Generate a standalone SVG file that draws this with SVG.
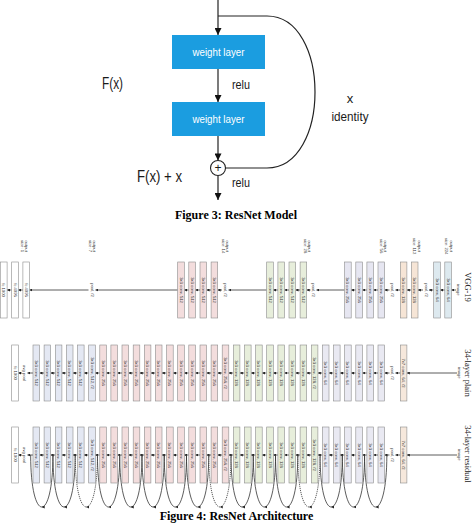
<svg xmlns="http://www.w3.org/2000/svg" xmlns:xlink="http://www.w3.org/1999/xlink" width="474" height="524" viewBox="0 0 474 524">
<style>
.wl{fill:#1b9de0}
.wt{fill:#fff;font-family:"Liberation Sans",sans-serif;font-size:11px;text-anchor:middle}
.lb{fill:#1a1a1a;font-family:"Liberation Sans",sans-serif}
.cap{fill:#000;font-family:"Liberation Serif",serif;font-weight:bold;font-size:12px;text-anchor:middle}
.b{stroke:#8c8c8c;stroke-width:0.6}
.v64{fill:#dde9ef}.v128{fill:#f6e5d6}.v256{fill:#e6e6f1}.v512g{fill:#e7eedb}.v512p{fill:#f3dddd}.fc{fill:#fff}
.p7{fill:#f6e8dc}.p64{fill:#e9e9f2}.p128{fill:#e7eedb}.p256{fill:#f3dddd}.p512{fill:#e4e8f3}
.bt{fill:#333;font-family:"Liberation Sans",sans-serif;font-size:4.2px;text-anchor:middle;dominant-baseline:central}
.rl{fill:#222;font-family:"Liberation Serif",serif;font-size:8.5px;text-anchor:middle;dominant-baseline:central}
.ar{stroke:#333;stroke-width:0.8;marker-end:url(#ah)}
.sc{stroke:#333;stroke-width:0.8;fill:none}
.dt{stroke-dasharray:1.2 0.9}
.tc{stroke:#222;stroke-width:1.2;fill:none}
</style>
<defs>
<marker id="ah" viewBox="0 0 6 6" refX="5.8" refY="3" markerWidth="3" markerHeight="3" markerUnits="userSpaceOnUse" orient="auto"><path d="M0,0 L6,3 L0,6 z" fill="#222"/></marker>
<marker id="big" viewBox="0 0 10 10" refX="10" refY="5" markerWidth="8" markerHeight="7" markerUnits="userSpaceOnUse" orient="auto"><path d="M0,0 L10,5 L0,10 z" fill="#111"/></marker>
<g id="chain" class="ar">
<line x1="457" y1="0" x2="406.9" y2="0"/><line x1="400.3" y1="0" x2="395.5" y2="0"/><line x1="389.5" y1="0" x2="384.6" y2="0"/>
<line x1="378" y1="0" x2="373.5" y2="0"/><line x1="366.9" y1="0" x2="362.4" y2="0"/><line x1="355.8" y1="0" x2="351.2" y2="0"/><line x1="344.6" y1="0" x2="340.1" y2="0"/>
<line x1="333.5" y1="0" x2="329" y2="0"/><line x1="322.4" y1="0" x2="317.9" y2="0"/><line x1="311.3" y1="0" x2="306.7" y2="0"/><line x1="300.1" y1="0" x2="295.6" y2="0"/>
<line x1="289" y1="0" x2="284.5" y2="0"/><line x1="277.9" y1="0" x2="273.3" y2="0"/><line x1="266.7" y1="0" x2="262.2" y2="0"/><line x1="255.6" y1="0" x2="251.1" y2="0"/>
<line x1="244.5" y1="0" x2="239.9" y2="0"/><line x1="233.3" y1="0" x2="228.8" y2="0"/><line x1="222.2" y1="0" x2="217.7" y2="0"/><line x1="211.1" y1="0" x2="206.6" y2="0"/>
<line x1="200" y1="0" x2="195.4" y2="0"/><line x1="188.8" y1="0" x2="184.3" y2="0"/><line x1="177.7" y1="0" x2="173.2" y2="0"/><line x1="166.6" y1="0" x2="162" y2="0"/>
<line x1="155.4" y1="0" x2="150.9" y2="0"/><line x1="144.3" y1="0" x2="139.8" y2="0"/><line x1="133.2" y1="0" x2="128.6" y2="0"/><line x1="122" y1="0" x2="117.5" y2="0"/>
<line x1="110.9" y1="0" x2="106.4" y2="0"/><line x1="99.8" y1="0" x2="95.3" y2="0"/><line x1="88.7" y1="0" x2="84.1" y2="0"/><line x1="77.5" y1="0" x2="73" y2="0"/>
<line x1="66.4" y1="0" x2="61.9" y2="0"/><line x1="55.3" y1="0" x2="50.7" y2="0"/><line x1="44.1" y1="0" x2="39.6" y2="0"/>
<line x1="33" y1="0" x2="27.5" y2="0"/><line x1="22" y1="0" x2="18.3" y2="0"/>
</g>
<g id="skip"><path class="sc" d="M11.13,455 C11.13,489.7 5.56,507 0,507" marker-end="url(#ah)"/><path class="sc" d="M0,507 C-5.56,507 -11.13,489.7 -11.13,455"/></g>
<g id="skipd"><path class="sc dt" d="M11.13,455 C11.13,489.7 5.56,507 0,507" marker-end="url(#ah)"/><path class="sc dt" d="M0,507 C-5.56,507 -11.13,489.7 -11.13,455"/></g>
</defs>
<rect width="474" height="524" fill="#fff"/>

<!-- Figure 3 connectors -->
<g id="connectors-fig3">
<line class="tc" x1="218" y1="0" x2="218" y2="35" marker-end="url(#big)"/>
<line class="tc" x1="218" y1="69" x2="218" y2="102" marker-end="url(#big)"/>
<line class="tc" x1="218" y1="136" x2="218" y2="160.5" marker-end="url(#big)"/>
<line class="tc" x1="218" y1="175.5" x2="218" y2="200" marker-end="url(#big)"/>
<path class="tc" d="M218,16 L267,16 C331,16 331,168 267,168 L225.5,168"/>
</g>
<g id="wl1"><rect class="wl" x="172" y="35" width="93" height="34"/><text class="wt" x="218.5" y="56" textLength="52" lengthAdjust="spacingAndGlyphs">weight layer</text></g>
<g id="wl2"><rect class="wl" x="172" y="102" width="93" height="34"/><text class="wt" x="218.5" y="123" textLength="52" lengthAdjust="spacingAndGlyphs">weight layer</text></g>
<g id="add"><circle cx="218" cy="168" r="7.5" fill="#fff" stroke="#222" stroke-width="1.1"/><text class="lb" x="218" y="172" font-size="12" text-anchor="middle">+</text></g>
<g id="fig3-labels">
<text class="lb" x="102" y="89" font-size="16" textLength="21" lengthAdjust="spacingAndGlyphs">F(x)</text>
<text class="lb" x="137" y="182" font-size="16" textLength="45" lengthAdjust="spacingAndGlyphs">F(x) + x</text>
<text class="lb" x="232" y="89" font-size="13" textLength="18" lengthAdjust="spacingAndGlyphs">relu</text>
<text class="lb" x="232" y="187" font-size="13" textLength="18" lengthAdjust="spacingAndGlyphs">relu</text>
<text class="lb" x="350" y="103" font-size="13" text-anchor="middle">x</text>
<text class="lb" x="350" y="121" font-size="13" text-anchor="middle" textLength="37" lengthAdjust="spacingAndGlyphs">identity</text>
</g>
<text class="cap" x="236" y="219">Figure 3: ResNet Model</text>

<!-- Figure 4 connectors -->
<g id="connectors-fig4">
<g class="ar">
<line x1="456" y1="290" x2="451.4" y2="290"/><line x1="444.8" y1="290" x2="440.3" y2="290"/><line x1="433.7" y1="290" x2="429" y2="290"/><line x1="423" y1="290" x2="418" y2="290"/>
<line x1="411.4" y1="290" x2="406.9" y2="290"/><line x1="400.3" y1="290" x2="395.5" y2="290"/><line x1="389.5" y1="290" x2="384.6" y2="290"/>
<line x1="378" y1="290" x2="373.5" y2="290"/><line x1="366.9" y1="290" x2="362.4" y2="290"/><line x1="355.8" y1="290" x2="351.2" y2="290"/>
<line x1="344.6" y1="290" x2="316.5" y2="290"/><line x1="310.5" y1="290" x2="306.7" y2="290"/>
<line x1="300.1" y1="290" x2="295.6" y2="290"/><line x1="289" y1="290" x2="284.5" y2="290"/><line x1="277.9" y1="290" x2="273.3" y2="290"/>
<line x1="266.7" y1="290" x2="228.5" y2="290"/><line x1="222" y1="290" x2="217.7" y2="290"/>
<line x1="211.1" y1="290" x2="206.6" y2="290"/><line x1="200" y1="290" x2="195.4" y2="290"/><line x1="188.8" y1="290" x2="184.3" y2="290"/>
<line x1="177.7" y1="290" x2="95.5" y2="290"/><line x1="88.5" y1="290" x2="29.5" y2="290"/>
<line x1="22.9" y1="290" x2="18.3" y2="290"/><line x1="11.7" y1="290" x2="7.1" y2="290"/>
</g>
<use href="#chain" xlink:href="#chain" y="373"/>
<use href="#chain" xlink:href="#chain" y="455"/>
<use href="#skip" xlink:href="#skip" x="41.8"/><use href="#skip" xlink:href="#skip" x="64.06"/><use href="#skipd" xlink:href="#skipd" x="86.32"/><use href="#skip" xlink:href="#skip" x="108.58"/>
<use href="#skip" xlink:href="#skip" x="130.84"/><use href="#skip" xlink:href="#skip" x="153.1"/><use href="#skip" xlink:href="#skip" x="175.36"/><use href="#skip" xlink:href="#skip" x="197.62"/>
<use href="#skipd" xlink:href="#skipd" x="219.88"/><use href="#skip" xlink:href="#skip" x="242.14"/><use href="#skip" xlink:href="#skip" x="264.4"/><use href="#skip" xlink:href="#skip" x="286.66"/>
<use href="#skipd" xlink:href="#skipd" x="308.92"/><use href="#skip" xlink:href="#skip" x="331.18"/><use href="#skip" xlink:href="#skip" x="353.44"/><use href="#skip" xlink:href="#skip" x="375.7"/>
</g>

<!-- VGG-19 row -->
<g id="vgg">
<g id="v_fc1000"><rect class="b fc" x="0.5" y="262" width="6.6" height="56"/><text class="bt" transform="translate(3.8,290) rotate(90)">fc 1000</text></g>
<g id="v_fc4096b"><rect class="b fc" x="11.7" y="262" width="6.6" height="56"/><text class="bt" transform="translate(15,290) rotate(90)">fc 4096</text></g>
<g id="v_fc4096a"><rect class="b fc" x="22.9" y="262" width="6.6" height="56"/><text class="bt" transform="translate(26.2,290) rotate(90)">fc 4096</text></g>
<g id="v_c512_8"><rect class="b v512p" x="177.7" y="262" width="6.6" height="56"/><text class="bt" transform="translate(181,290) rotate(90)">3x3 conv, 512</text></g>
<g id="v_c512_7"><rect class="b v512p" x="188.8" y="262" width="6.6" height="56"/><text class="bt" transform="translate(192.1,290) rotate(90)">3x3 conv, 512</text></g>
<g id="v_c512_6"><rect class="b v512p" x="200" y="262" width="6.6" height="56"/><text class="bt" transform="translate(203.3,290) rotate(90)">3x3 conv, 512</text></g>
<g id="v_c512_5"><rect class="b v512p" x="211.1" y="262" width="6.6" height="56"/><text class="bt" transform="translate(214.4,290) rotate(90)">3x3 conv, 512</text></g>
<g id="v_c512_4"><rect class="b v512g" x="266.7" y="262" width="6.6" height="56"/><text class="bt" transform="translate(270,290) rotate(90)">3x3 conv, 512</text></g>
<g id="v_c512_3"><rect class="b v512g" x="277.9" y="262" width="6.6" height="56"/><text class="bt" transform="translate(281.2,290) rotate(90)">3x3 conv, 512</text></g>
<g id="v_c512_2"><rect class="b v512g" x="289" y="262" width="6.6" height="56"/><text class="bt" transform="translate(292.3,290) rotate(90)">3x3 conv, 512</text></g>
<g id="v_c512_1"><rect class="b v512g" x="300.1" y="262" width="6.6" height="56"/><text class="bt" transform="translate(303.4,290) rotate(90)">3x3 conv, 512</text></g>
<g id="v_c256_4"><rect class="b v256" x="344.6" y="262" width="6.6" height="56"/><text class="bt" transform="translate(347.9,290) rotate(90)">3x3 conv, 256</text></g>
<g id="v_c256_3"><rect class="b v256" x="355.8" y="262" width="6.6" height="56"/><text class="bt" transform="translate(359.1,290) rotate(90)">3x3 conv, 256</text></g>
<g id="v_c256_2"><rect class="b v256" x="366.9" y="262" width="6.6" height="56"/><text class="bt" transform="translate(370.2,290) rotate(90)">3x3 conv, 256</text></g>
<g id="v_c256_1"><rect class="b v256" x="378" y="262" width="6.6" height="56"/><text class="bt" transform="translate(381.3,290) rotate(90)">3x3 conv, 256</text></g>
<g id="v_c128_2"><rect class="b v128" x="400.3" y="262" width="6.6" height="56"/><text class="bt" transform="translate(403.6,290) rotate(90)">3x3 conv, 128</text></g>
<g id="v_c128_1"><rect class="b v128" x="411.4" y="262" width="6.6" height="56"/><text class="bt" transform="translate(414.7,290) rotate(90)">3x3 conv, 128</text></g>
<g id="v_c64_2"><rect class="b v64" x="433.7" y="262" width="6.6" height="56"/><text class="bt" transform="translate(437,290) rotate(90)">3x3 conv, 64</text></g>
<g id="v_c64_1"><rect class="b v64" x="444.8" y="262" width="6.6" height="56"/><text class="bt" transform="translate(448.1,290) rotate(90)">3x3 conv, 64</text></g>
<g id="v_labels">
<text class="bt" transform="translate(458.5,290) rotate(90)">image</text>
<text class="bt" transform="translate(426,290) rotate(90)">pool, /2</text>
<text class="bt" transform="translate(392.5,290) rotate(90)">pool, /2</text>
<text class="bt" transform="translate(313.3,290) rotate(90)">pool, /2</text>
<text class="bt" transform="translate(225.2,290) rotate(90)">pool, /2</text>
<text class="bt" transform="translate(92,290) rotate(90)">pool, /2</text>
<text class="bt" transform="translate(449.5,246) rotate(90)"><tspan x="0" y="-2.3">output</tspan><tspan x="0" y="2.4">size: 224</tspan></text>
<text class="bt" transform="translate(417.5,246) rotate(90)"><tspan x="0" y="-2.3">output</tspan><tspan x="0" y="2.4">size: 112</tspan></text>
<text class="bt" transform="translate(384,246) rotate(90)"><tspan x="0" y="-2.3">output</tspan><tspan x="0" y="2.4">size: 56</tspan></text>
<text class="bt" transform="translate(308,246) rotate(90)"><tspan x="0" y="-2.3">output</tspan><tspan x="0" y="2.4">size: 28</tspan></text>
<text class="bt" transform="translate(226,246) rotate(90)"><tspan x="0" y="-2.3">output</tspan><tspan x="0" y="2.4">size: 14</tspan></text>
<text class="bt" transform="translate(93,246) rotate(90)"><tspan x="0" y="-2.3">output</tspan><tspan x="0" y="2.4">size: 7</tspan></text>
<text class="bt" transform="translate(25,246) rotate(90)"><tspan x="0" y="-2.3">output</tspan><tspan x="0" y="2.4">size: 1</tspan></text>
<text class="rl" transform="translate(468,287) rotate(90)">VGG-19</text>
</g>
</g>

<!-- 34-layer plain row -->
<g id="plain">
<g id="p_fc"><rect class="b fc" x="11.7" y="345" width="6.6" height="56"/><text class="bt" transform="translate(15,373) rotate(90)">fc 1000</text></g>
<g id="p0"><rect class="b p512" x="33" y="345" width="6.6" height="56"/><text class="bt" transform="translate(36.3,373) rotate(90)">3x3 conv, 512</text></g>
<g id="p1"><rect class="b p512" x="44.1" y="345" width="6.6" height="56"/><text class="bt" transform="translate(47.4,373) rotate(90)">3x3 conv, 512</text></g>
<g id="p2"><rect class="b p512" x="55.3" y="345" width="6.6" height="56"/><text class="bt" transform="translate(58.6,373) rotate(90)">3x3 conv, 512</text></g>
<g id="p3"><rect class="b p512" x="66.4" y="345" width="6.6" height="56"/><text class="bt" transform="translate(69.7,373) rotate(90)">3x3 conv, 512</text></g>
<g id="p4"><rect class="b p512" x="77.5" y="345" width="6.6" height="56"/><text class="bt" transform="translate(80.8,373) rotate(90)">3x3 conv, 512</text></g>
<g id="p5"><rect class="b p512" x="88.7" y="345" width="6.6" height="56"/><text class="bt" transform="translate(92,373) rotate(90)">3x3 conv, 512, /2</text></g>
<g id="p6"><rect class="b p256" x="99.8" y="345" width="6.6" height="56"/><text class="bt" transform="translate(103.1,373) rotate(90)">3x3 conv, 256</text></g>
<g id="p7"><rect class="b p256" x="110.9" y="345" width="6.6" height="56"/><text class="bt" transform="translate(114.2,373) rotate(90)">3x3 conv, 256</text></g>
<g id="p8"><rect class="b p256" x="122" y="345" width="6.6" height="56"/><text class="bt" transform="translate(125.3,373) rotate(90)">3x3 conv, 256</text></g>
<g id="p9"><rect class="b p256" x="133.2" y="345" width="6.6" height="56"/><text class="bt" transform="translate(136.5,373) rotate(90)">3x3 conv, 256</text></g>
<g id="p10"><rect class="b p256" x="144.3" y="345" width="6.6" height="56"/><text class="bt" transform="translate(147.6,373) rotate(90)">3x3 conv, 256</text></g>
<g id="p11"><rect class="b p256" x="155.4" y="345" width="6.6" height="56"/><text class="bt" transform="translate(158.7,373) rotate(90)">3x3 conv, 256</text></g>
<g id="p12"><rect class="b p256" x="166.6" y="345" width="6.6" height="56"/><text class="bt" transform="translate(169.9,373) rotate(90)">3x3 conv, 256</text></g>
<g id="p13"><rect class="b p256" x="177.7" y="345" width="6.6" height="56"/><text class="bt" transform="translate(181,373) rotate(90)">3x3 conv, 256</text></g>
<g id="p14"><rect class="b p256" x="188.8" y="345" width="6.6" height="56"/><text class="bt" transform="translate(192.1,373) rotate(90)">3x3 conv, 256</text></g>
<g id="p15"><rect class="b p256" x="200" y="345" width="6.6" height="56"/><text class="bt" transform="translate(203.3,373) rotate(90)">3x3 conv, 256</text></g>
<g id="p16"><rect class="b p256" x="211.1" y="345" width="6.6" height="56"/><text class="bt" transform="translate(214.4,373) rotate(90)">3x3 conv, 256</text></g>
<g id="p17"><rect class="b p256" x="222.2" y="345" width="6.6" height="56"/><text class="bt" transform="translate(225.5,373) rotate(90)">3x3 conv, 256, /2</text></g>
<g id="p18"><rect class="b p128" x="233.3" y="345" width="6.6" height="56"/><text class="bt" transform="translate(236.6,373) rotate(90)">3x3 conv, 128</text></g>
<g id="p19"><rect class="b p128" x="244.5" y="345" width="6.6" height="56"/><text class="bt" transform="translate(247.8,373) rotate(90)">3x3 conv, 128</text></g>
<g id="p20"><rect class="b p128" x="255.6" y="345" width="6.6" height="56"/><text class="bt" transform="translate(258.9,373) rotate(90)">3x3 conv, 128</text></g>
<g id="p21"><rect class="b p128" x="266.7" y="345" width="6.6" height="56"/><text class="bt" transform="translate(270,373) rotate(90)">3x3 conv, 128</text></g>
<g id="p22"><rect class="b p128" x="277.9" y="345" width="6.6" height="56"/><text class="bt" transform="translate(281.2,373) rotate(90)">3x3 conv, 128</text></g>
<g id="p23"><rect class="b p128" x="289" y="345" width="6.6" height="56"/><text class="bt" transform="translate(292.3,373) rotate(90)">3x3 conv, 128</text></g>
<g id="p24"><rect class="b p128" x="300.1" y="345" width="6.6" height="56"/><text class="bt" transform="translate(303.4,373) rotate(90)">3x3 conv, 128</text></g>
<g id="p25"><rect class="b p128" x="311.3" y="345" width="6.6" height="56"/><text class="bt" transform="translate(314.6,373) rotate(90)">3x3 conv, 128, /2</text></g>
<g id="p26"><rect class="b p64" x="322.4" y="345" width="6.6" height="56"/><text class="bt" transform="translate(325.7,373) rotate(90)">3x3 conv, 64</text></g>
<g id="p27"><rect class="b p64" x="333.5" y="345" width="6.6" height="56"/><text class="bt" transform="translate(336.8,373) rotate(90)">3x3 conv, 64</text></g>
<g id="p28"><rect class="b p64" x="344.6" y="345" width="6.6" height="56"/><text class="bt" transform="translate(347.9,373) rotate(90)">3x3 conv, 64</text></g>
<g id="p29"><rect class="b p64" x="355.8" y="345" width="6.6" height="56"/><text class="bt" transform="translate(359.1,373) rotate(90)">3x3 conv, 64</text></g>
<g id="p30"><rect class="b p64" x="366.9" y="345" width="6.6" height="56"/><text class="bt" transform="translate(370.2,373) rotate(90)">3x3 conv, 64</text></g>
<g id="p31"><rect class="b p64" x="378" y="345" width="6.6" height="56"/><text class="bt" transform="translate(381.3,373) rotate(90)">3x3 conv, 64</text></g>
<g id="p_7x7"><rect class="b p7" x="400.3" y="345" width="6.6" height="56"/><text class="bt" transform="translate(403.6,373) rotate(90)">7x7 conv, 64, /2</text></g>
<g id="p_labels">
<text class="bt" transform="translate(24.7,373) rotate(90)">avg pool</text>
<text class="bt" transform="translate(392.5,373) rotate(90)">pool, /2</text>
<text class="bt" transform="translate(459,373) rotate(90)">image</text>
<text class="rl" transform="translate(468,373) rotate(90)">34-layer plain</text>
</g>
</g>

<!-- 34-layer residual row -->
<g id="residual">
<g id="r_fc"><rect class="b fc" x="11.7" y="427" width="6.6" height="56"/><text class="bt" transform="translate(15,455) rotate(90)">fc 1000</text></g>
<g id="r0"><rect class="b p512" x="33" y="427" width="6.6" height="56"/><text class="bt" transform="translate(36.3,455) rotate(90)">3x3 conv, 512</text></g>
<g id="r1"><rect class="b p512" x="44.1" y="427" width="6.6" height="56"/><text class="bt" transform="translate(47.4,455) rotate(90)">3x3 conv, 512</text></g>
<g id="r2"><rect class="b p512" x="55.3" y="427" width="6.6" height="56"/><text class="bt" transform="translate(58.6,455) rotate(90)">3x3 conv, 512</text></g>
<g id="r3"><rect class="b p512" x="66.4" y="427" width="6.6" height="56"/><text class="bt" transform="translate(69.7,455) rotate(90)">3x3 conv, 512</text></g>
<g id="r4"><rect class="b p512" x="77.5" y="427" width="6.6" height="56"/><text class="bt" transform="translate(80.8,455) rotate(90)">3x3 conv, 512</text></g>
<g id="r5"><rect class="b p512" x="88.7" y="427" width="6.6" height="56"/><text class="bt" transform="translate(92,455) rotate(90)">3x3 conv, 512, /2</text></g>
<g id="r6"><rect class="b p256" x="99.8" y="427" width="6.6" height="56"/><text class="bt" transform="translate(103.1,455) rotate(90)">3x3 conv, 256</text></g>
<g id="r7"><rect class="b p256" x="110.9" y="427" width="6.6" height="56"/><text class="bt" transform="translate(114.2,455) rotate(90)">3x3 conv, 256</text></g>
<g id="r8"><rect class="b p256" x="122" y="427" width="6.6" height="56"/><text class="bt" transform="translate(125.3,455) rotate(90)">3x3 conv, 256</text></g>
<g id="r9"><rect class="b p256" x="133.2" y="427" width="6.6" height="56"/><text class="bt" transform="translate(136.5,455) rotate(90)">3x3 conv, 256</text></g>
<g id="r10"><rect class="b p256" x="144.3" y="427" width="6.6" height="56"/><text class="bt" transform="translate(147.6,455) rotate(90)">3x3 conv, 256</text></g>
<g id="r11"><rect class="b p256" x="155.4" y="427" width="6.6" height="56"/><text class="bt" transform="translate(158.7,455) rotate(90)">3x3 conv, 256</text></g>
<g id="r12"><rect class="b p256" x="166.6" y="427" width="6.6" height="56"/><text class="bt" transform="translate(169.9,455) rotate(90)">3x3 conv, 256</text></g>
<g id="r13"><rect class="b p256" x="177.7" y="427" width="6.6" height="56"/><text class="bt" transform="translate(181,455) rotate(90)">3x3 conv, 256</text></g>
<g id="r14"><rect class="b p256" x="188.8" y="427" width="6.6" height="56"/><text class="bt" transform="translate(192.1,455) rotate(90)">3x3 conv, 256</text></g>
<g id="r15"><rect class="b p256" x="200" y="427" width="6.6" height="56"/><text class="bt" transform="translate(203.3,455) rotate(90)">3x3 conv, 256</text></g>
<g id="r16"><rect class="b p256" x="211.1" y="427" width="6.6" height="56"/><text class="bt" transform="translate(214.4,455) rotate(90)">3x3 conv, 256</text></g>
<g id="r17"><rect class="b p256" x="222.2" y="427" width="6.6" height="56"/><text class="bt" transform="translate(225.5,455) rotate(90)">3x3 conv, 256, /2</text></g>
<g id="r18"><rect class="b p128" x="233.3" y="427" width="6.6" height="56"/><text class="bt" transform="translate(236.6,455) rotate(90)">3x3 conv, 128</text></g>
<g id="r19"><rect class="b p128" x="244.5" y="427" width="6.6" height="56"/><text class="bt" transform="translate(247.8,455) rotate(90)">3x3 conv, 128</text></g>
<g id="r20"><rect class="b p128" x="255.6" y="427" width="6.6" height="56"/><text class="bt" transform="translate(258.9,455) rotate(90)">3x3 conv, 128</text></g>
<g id="r21"><rect class="b p128" x="266.7" y="427" width="6.6" height="56"/><text class="bt" transform="translate(270,455) rotate(90)">3x3 conv, 128</text></g>
<g id="r22"><rect class="b p128" x="277.9" y="427" width="6.6" height="56"/><text class="bt" transform="translate(281.2,455) rotate(90)">3x3 conv, 128</text></g>
<g id="r23"><rect class="b p128" x="289" y="427" width="6.6" height="56"/><text class="bt" transform="translate(292.3,455) rotate(90)">3x3 conv, 128</text></g>
<g id="r24"><rect class="b p128" x="300.1" y="427" width="6.6" height="56"/><text class="bt" transform="translate(303.4,455) rotate(90)">3x3 conv, 128</text></g>
<g id="r25"><rect class="b p128" x="311.3" y="427" width="6.6" height="56"/><text class="bt" transform="translate(314.6,455) rotate(90)">3x3 conv, 128, /2</text></g>
<g id="r26"><rect class="b p64" x="322.4" y="427" width="6.6" height="56"/><text class="bt" transform="translate(325.7,455) rotate(90)">3x3 conv, 64</text></g>
<g id="r27"><rect class="b p64" x="333.5" y="427" width="6.6" height="56"/><text class="bt" transform="translate(336.8,455) rotate(90)">3x3 conv, 64</text></g>
<g id="r28"><rect class="b p64" x="344.6" y="427" width="6.6" height="56"/><text class="bt" transform="translate(347.9,455) rotate(90)">3x3 conv, 64</text></g>
<g id="r29"><rect class="b p64" x="355.8" y="427" width="6.6" height="56"/><text class="bt" transform="translate(359.1,455) rotate(90)">3x3 conv, 64</text></g>
<g id="r30"><rect class="b p64" x="366.9" y="427" width="6.6" height="56"/><text class="bt" transform="translate(370.2,455) rotate(90)">3x3 conv, 64</text></g>
<g id="r31"><rect class="b p64" x="378" y="427" width="6.6" height="56"/><text class="bt" transform="translate(381.3,455) rotate(90)">3x3 conv, 64</text></g>
<g id="r_7x7"><rect class="b p7" x="400.3" y="427" width="6.6" height="56"/><text class="bt" transform="translate(403.6,455) rotate(90)">7x7 conv, 64, /2</text></g>
<g id="r_labels">
<text class="bt" transform="translate(24.7,455) rotate(90)">avg pool</text>
<text class="bt" transform="translate(392.5,455) rotate(90)">pool, /2</text>
<text class="bt" transform="translate(459,455) rotate(90)">image</text>
<text class="rl" transform="translate(468,454) rotate(90)">34-layer residual</text>
</g>
</g>

<text class="cap" x="236.5" y="520">Figure 4: ResNet Architecture</text>
</svg>
